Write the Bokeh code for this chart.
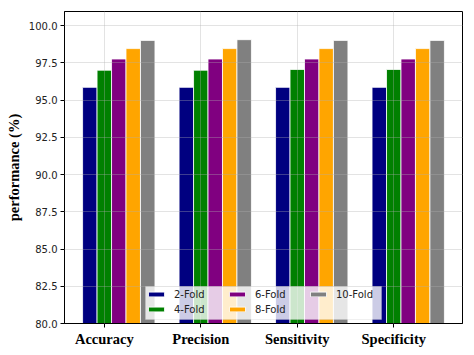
import numpy as np
from bokeh.plotting import figure
from bokeh.models import (Range1d, FixedTicker, Legend, LegendItem,
                          ColumnDataSource, PrintfTickFormatter, BoxAnnotation)
from bokeh.embed import file_html
from bokeh.resources import INLINE

metrics = ["Accuracy", "Precision", "Sensitivity", "Specificity"]
folds = ["2-Fold", "4-Fold", "6-Fold", "8-Fold", "10-Fold"]
fold_2 = [95.85, 95.85, 95.85, 95.85]
fold_4 = [97.0, 97.0, 97.05, 97.05]
fold_6 = [97.75, 97.75, 97.75, 97.75]
fold_8 = [98.45, 98.45, 98.45, 98.45]
fold_10 = [99.0, 99.05, 99.0, 99.0]
series = [fold_2, fold_4, fold_6, fold_8, fold_10]
colors = ["#000080", "#008000", "#800080", "#FFA500", "#808080"]
yticks = [80.0, 82.5, 85.0, 87.5, 90.0, 92.5, 95.0, 97.5, 100.0]

bar_w = 0.15
p = figure(width=474, height=355, output_backend="svg", toolbar_location=None,
           x_range=Range1d(-0.4125, 3.7125), y_range=Range1d(80, 100.94),
           min_border_left=64, min_border_right=12, min_border_top=11,
           min_border_bottom=32)
p.background_fill_color = "white"
p.border_fill_color = "white"
p.outline_line_color = "black"
p.outline_line_width = 1

base = np.arange(len(metrics))
items = []
for i, (name, vals, c) in enumerate(zip(folds, series, colors)):
    src = ColumnDataSource(dict(x=base + (i - 1) * bar_w, top=vals))
    r = p.vbar(x="x", top="top", bottom=80, width=bar_w, source=src,
               fill_color=c, line_color="white", line_width=0.8)
    items.append(LegendItem(label=name, renderers=[r]))

# legend background box (canvas pixels)
box = BoxAnnotation(left=145, right=381, top=286, bottom=319,
                    left_units="canvas", right_units="canvas",
                    top_units="canvas", bottom_units="canvas",
                    fill_color="white", fill_alpha=0.8,
                    line_color="#cccccc", line_width=1, level="annotation")
p.add_layout(box)

common = dict(label_text_font="DejaVu Sans", label_text_font_size="10px",
              label_text_color="#222222",
              glyph_width=20, glyph_height=6, label_height=11,
              label_standoff=8, spacing=4, padding=4, margin=0,
              border_line_color=None, background_fill_alpha=0)
legend1 = Legend(items=items[:4], nrows=2, location=(82, 8.5),
                 label_width=49, **common)
legend2 = Legend(items=items[4:], location=(244, 23.5), label_width=30,
                 **common)
p.add_layout(legend1, "center")
p.add_layout(legend2, "center")

# axes
p.xaxis.ticker = FixedTicker(ticks=list(base))
p.xaxis.major_label_overrides = {int(k): m for k, m in zip(base, metrics)}
p.xaxis.major_label_text_font = "Liberation Serif"
p.xaxis.major_label_text_font_style = "bold"
p.xaxis.major_label_text_font_size = "14.5px"
p.xaxis.major_label_text_color = "black"
p.xaxis.major_label_standoff = 3
p.yaxis.ticker = FixedTicker(ticks=yticks)
p.yaxis.formatter = PrintfTickFormatter(format="%.1f")
p.yaxis.major_label_text_font = "DejaVu Sans"
p.yaxis.major_label_text_font_size = "10px"
p.yaxis.major_label_text_color = "#222222"
p.yaxis.major_label_standoff = 3
p.yaxis.axis_label = "performance (%)"
p.yaxis.axis_label_text_font = "Liberation Serif"
p.yaxis.axis_label_text_font_style = "bold"
p.yaxis.axis_label_text_font_size = "14.5px"
p.yaxis.axis_label_text_color = "black"
p.yaxis.axis_label_standoff = 4
for ax in (p.xaxis, p.yaxis):
    ax.axis_line_color = "black"
    ax.major_tick_line_color = "black"
    ax.major_tick_out = 4
    ax.major_tick_in = 0
    ax.minor_tick_line_color = None

for g in (p.xgrid, p.ygrid):
    g.grid_line_color = "#b0b0b0"
    g.grid_line_alpha = 0.35
    g.grid_line_width = 1
    g.level = "guide"
p.xgrid.ticker = FixedTicker(ticks=list(base))
p.ygrid.ticker = FixedTicker(ticks=yticks)

open("out.html", "w").write(file_html(p, INLINE))
